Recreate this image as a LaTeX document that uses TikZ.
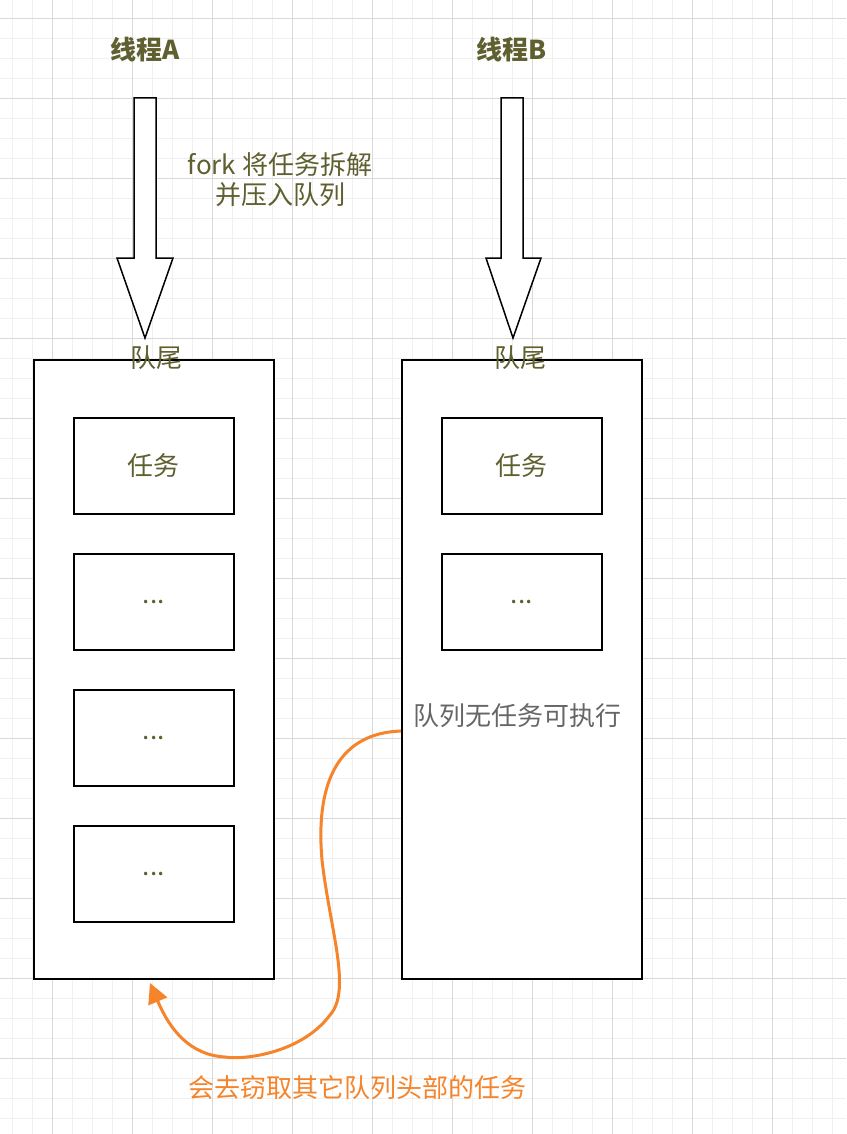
\documentclass[tikz,border=0pt]{standalone}
\usepackage{fontspec}
\setmainfont{Noto Sans CJK SC}
\usetikzlibrary{arrows.meta}
\definecolor{olive}{HTML}{5F5F30}
\definecolor{org}{HTML}{F5842B}
\definecolor{gtxt}{HTML}{666666}
\newcommand{\myd}{...}
\begin{document}
\begin{tikzpicture}[x=1pt,y=-1pt,
  box/.style={draw=black,line width=1.5pt,fill=white},
  lab/.style={text=olive,font=\fontsize{26}{31}\selectfont},
  barrow/.style={draw=black,line width=1.5pt,fill=white,line join=miter}]
\useasboundingbox (0,0) rectangle (846,1134);
\fill[white] (0,0) rectangle (846,1134);
\foreach \x in {12,32,...,846} \draw[black!6,line width=0.6pt] (\x,0) -- (\x,1134);
\foreach \y in {18,38,...,1134} \draw[black!6,line width=0.6pt] (0,\y) -- (846,\y);
\foreach \x in {52,132,...,846} \draw[black!15,line width=0.8pt] (\x,0) -- (\x,1134);
\foreach \y in {18,98,...,1134} \draw[black!15,line width=0.8pt] (0,\y) -- (846,\y);
% titles
\node[lab,font=\fontsize{26}{31}\selectfont\bfseries] (tA) at (145,50) {线程A};
\node[lab,font=\fontsize{26}{31}\selectfont\bfseries] (tB) at (512,50) {线程B};
% block arrows
\draw[barrow] (134,98) -- (156,98) -- (156,258) -- (173,258) -- (145,338) -- (117,258) -- (134,258) -- cycle;
\draw[barrow] (501,98) -- (523,98) -- (523,258) -- (541,258) -- (513,338) -- (486,258) -- (501,258) -- cycle;
\node[lab,align=center,font=\fontsize{26}{30}\selectfont] (fork) at (280,180) {fork 将任务拆解\\并压入队列};
% queues
\node[box,minimum width=240,minimum height=619,anchor=north west] (qA) at (33,359) {};
\node[box,minimum width=240,minimum height=619,anchor=north west] (qB) at (401,359) {};
\node[lab] (wA) at (156,358) {队尾};
\node[lab] (wB) at (520,358) {队尾};
\foreach \n/\y/\t in {a1/417/任务,a2/553/\myd,a3/689/\myd,a4/825/\myd}
  \node[box,minimum width=160,minimum height=96,anchor=north west,lab] (\n) at (73,\y) {\t};
\foreach \n/\y/\t in {b1/417/任务,b2/553/\myd}
  \node[box,minimum width=160,minimum height=96,anchor=north west,lab] (\n) at (441,\y) {\t};
\node[text=gtxt,font=\fontsize{26}{31}\selectfont] (empty) at (517,716) {队列无任务可执行};
\coordinate (s) at (401,731);
\coordinate (e) at (150,983);
\draw[org,line width=3pt,-{Triangle[length=20pt,width=20pt]}] (s)
  .. controls (340,733) and (315,780) .. (322,860)
  .. controls (330,930) and (352,990) .. (330,1015)
  .. controls (300,1055) and (240,1060) .. (225,1057)
  .. controls (190,1055) and (170,1030) .. (e);
\node[text=org,font=\fontsize{26}{31}\selectfont] (steal) at (357,1088) {会去窃取其它队列头部的任务};
\end{tikzpicture}
\end{document}
